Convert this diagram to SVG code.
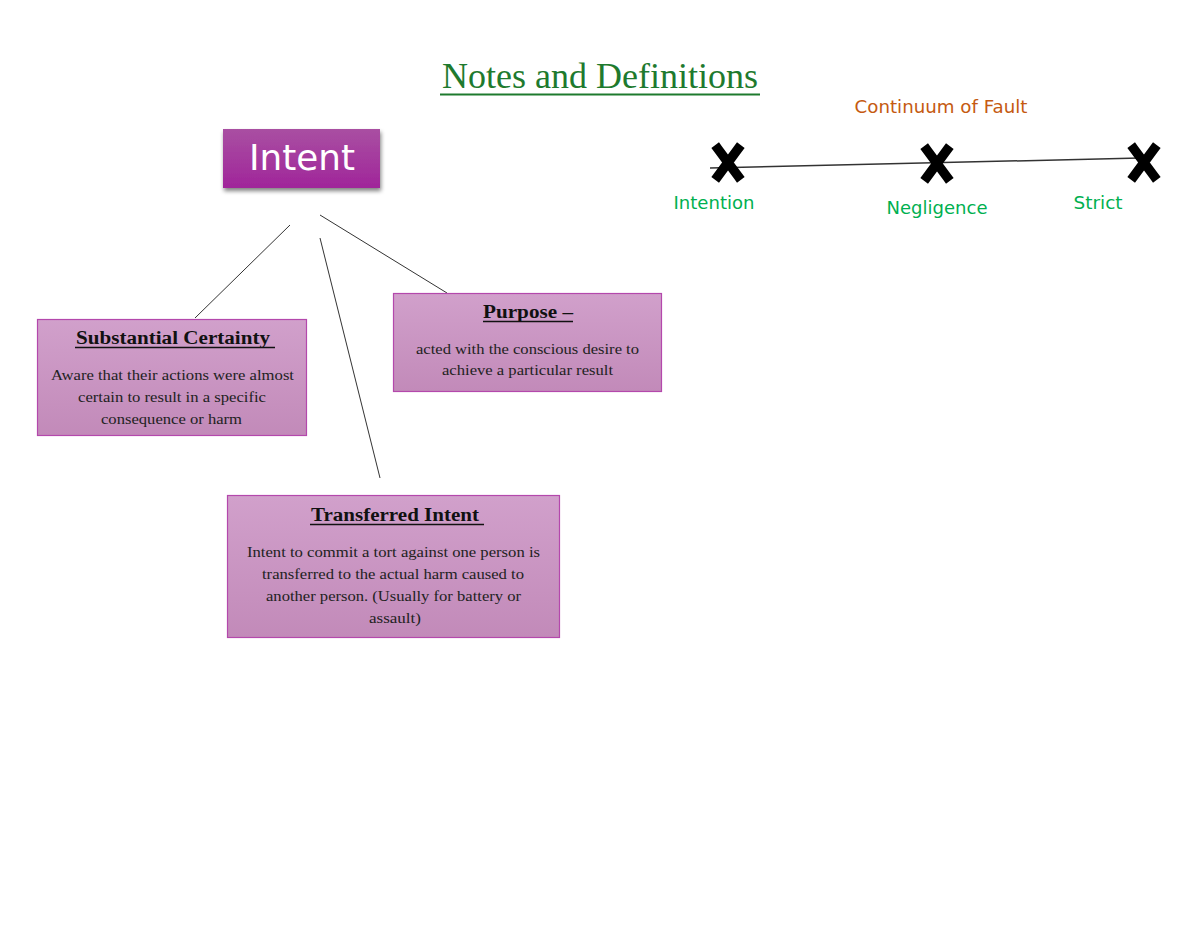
<svg xmlns="http://www.w3.org/2000/svg" width="1200" height="927" viewBox="0 0 1200 927">
<style>
.box{fill:url(#boxg);stroke:#b448ac;stroke-width:1.2}
.ttl{font-family:"Liberation Serif",serif;font-size:18px;font-weight:bold;fill:#111;text-anchor:middle}
.ul{stroke:#111;stroke-width:1.3}
.body{font-family:"Liberation Serif",serif;font-size:15.5px;fill:#222;text-anchor:middle}
.lbl{font-family:"DejaVu Sans",sans-serif;font-size:18px;fill:#00b050;text-anchor:middle}
.conn{stroke:#333;stroke-width:1;fill:none}
.xm{stroke:#000;stroke-width:9.5;stroke-linecap:square}
</style>
<defs>
<linearGradient id="boxg" x1="0" y1="0" x2="0" y2="1"><stop offset="0" stop-color="#d1a0cb"/><stop offset="1" stop-color="#c28ab9"/></linearGradient>
<linearGradient id="intg" x1="0" y1="0" x2="0" y2="1"><stop offset="0" stop-color="#a94fa2"/><stop offset="1" stop-color="#a0259a"/></linearGradient>
<filter id="sh" x="-10%" y="-10%" width="130%" height="140%"><feGaussianBlur in="SourceAlpha" stdDeviation="2"/><feOffset dx="1" dy="3"/><feComponentTransfer><feFuncA type="linear" slope="0.5"/></feComponentTransfer><feMerge><feMergeNode/><feMergeNode in="SourceGraphic"/></feMerge></filter>
</defs>
<rect width="1200" height="927" fill="#fff"/>
<g id="title">
<text x="600" y="88" font-family="Liberation Serif,serif" font-size="36" fill="#1e7a2e" text-anchor="middle" textLength="316" lengthAdjust="spacing">Notes and Definitions</text>
<line x1="440" y1="94.5" x2="760" y2="94.5" stroke="#1e7a2e" stroke-width="2"/>
</g>
<g id="connectors">
<line class="conn" x1="290" y1="225" x2="195" y2="318"/>
<line class="conn" x1="320" y1="238" x2="380" y2="478"/>
<line class="conn" x1="320" y1="215" x2="447" y2="293"/>
<line x1="710" y1="168" x2="1140" y2="158" stroke="#333" stroke-width="1.5"/>
</g>
<g id="intent">
<rect x="223" y="129" width="157" height="59" fill="url(#intg)" filter="url(#sh)"/>
<text x="302" y="170" font-family="DejaVu Sans,sans-serif" font-size="35" fill="#fff" text-anchor="middle" textLength="106" lengthAdjust="spacingAndGlyphs">Intent</text>
</g>
<g id="continuum">
<text x="941" y="113" font-family="DejaVu Sans,sans-serif" font-size="18" fill="#c55a11" text-anchor="middle" textLength="173" lengthAdjust="spacingAndGlyphs">Continuum of Fault</text>
</g>
<g id="x-intention">
<path class="xm" d="M718 149L738 176M738 149L718 176"/>
<text class="lbl" x="714" y="209" textLength="81" lengthAdjust="spacingAndGlyphs">Intention</text>
</g>
<g id="x-negligence">
<path class="xm" d="M927 150L947 177M947 150L927 177"/>
<text class="lbl" x="937" y="214" textLength="101" lengthAdjust="spacingAndGlyphs">Negligence</text>
</g>
<g id="x-strict">
<path class="xm" d="M1134 149L1154 176M1154 149L1134 176"/>
<text class="lbl" x="1098" y="209" textLength="49" lengthAdjust="spacingAndGlyphs">Strict</text>
</g>
<g id="substantial">
<rect class="box" x="37.5" y="319.5" width="269" height="116"/>
<text class="ttl" x="173" y="344" textLength="194" lengthAdjust="spacingAndGlyphs">Substantial Certainty</text>
<line class="ul" x1="75" y1="347.5" x2="275" y2="347.5"/>
<text class="body" x="172.5" y="380" textLength="243" lengthAdjust="spacingAndGlyphs">Aware that their actions were almost</text>
<text class="body" x="172" y="402" textLength="188" lengthAdjust="spacingAndGlyphs">certain to result in a specific</text>
<text class="body" x="171.5" y="424" textLength="141" lengthAdjust="spacingAndGlyphs">consequence or harm</text>
</g>
<g id="purpose">
<rect class="box" x="393.5" y="293.5" width="268" height="98"/>
<text class="ttl" x="528" y="318" textLength="90" lengthAdjust="spacingAndGlyphs">Purpose –</text>
<line class="ul" x1="483" y1="321.5" x2="573" y2="321.5"/>
<text class="body" x="527.5" y="354" textLength="223" lengthAdjust="spacingAndGlyphs">acted with the conscious desire to</text>
<text class="body" x="527.5" y="375" textLength="171" lengthAdjust="spacingAndGlyphs">achieve a particular result</text>
</g>
<g id="transferred">
<rect class="box" x="227.5" y="495.5" width="332" height="142"/>
<text class="ttl" x="395" y="521" textLength="168" lengthAdjust="spacingAndGlyphs">Transferred Intent</text>
<line class="ul" x1="310" y1="524.5" x2="484" y2="524.5"/>
<text class="body" x="393.5" y="557" textLength="293" lengthAdjust="spacingAndGlyphs">Intent to commit a tort against one person is</text>
<text class="body" x="393" y="579" textLength="262" lengthAdjust="spacingAndGlyphs">transferred to the actual harm caused to</text>
<text class="body" x="393.5" y="601" textLength="255" lengthAdjust="spacingAndGlyphs">another person. (Usually for battery or</text>
<text class="body" x="395" y="623" textLength="52" lengthAdjust="spacingAndGlyphs">assault)</text>
</g>
</svg>
